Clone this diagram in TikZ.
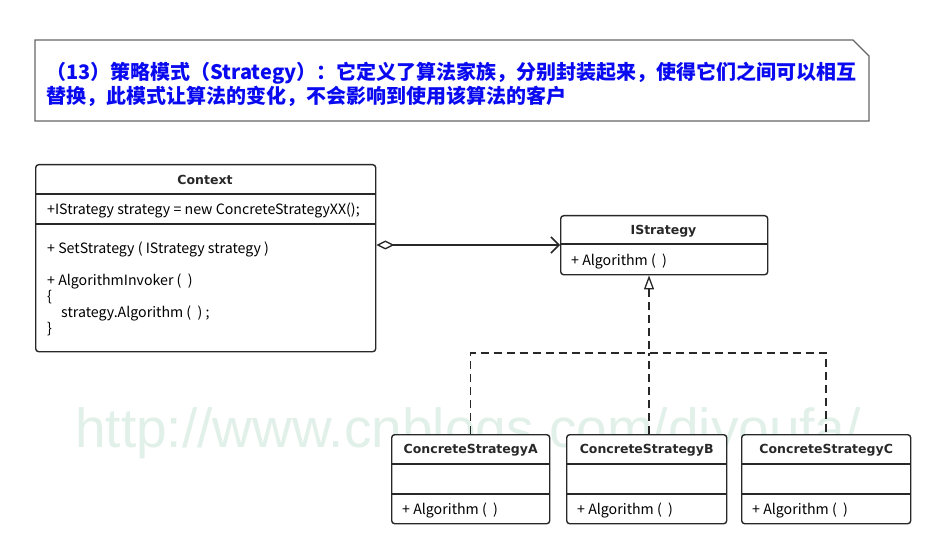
\documentclass[tikz,border=0pt]{standalone}
\usepackage{fontspec}
\usetikzlibrary{arrows.meta}
\newfontfamily\cjk{Noto Sans CJK SC}
\newfontfamily\bodyf{Noto Sans CJK SC}
\newfontfamily\headf{DejaVu Sans}
\newfontfamily\wmf{Liberation Sans}
\definecolor{ttl}{RGB}{10,10,240}
\definecolor{wm}{RGB}{226,240,234}
\definecolor{ln}{RGB}{40,40,40}
\begin{document}
\begin{tikzpicture}[x=1pt,y=-1pt,
  cls/.style={draw=ln, line width=1.4pt, rounded corners=3pt, fill=white, inner sep=0pt, anchor=north west},
  hdr/.style={font=\headf\bfseries\fontsize{12.5}{14}\selectfont, text=ln, inner sep=0pt},
  txt/.style={font=\bodyf\fontsize{14.2}{16}\selectfont, text=black, inner sep=0pt, anchor=west, yshift=-1.5pt},
  div/.style={draw=ln, line width=1.4pt},
  real/.style={draw=ln, line width=1.5pt, dash pattern=on 8pt off 5pt},
  ttlt/.style={font=\cjk\bfseries\fontsize{20}{22}\selectfont, text=ttl, inner sep=0pt, anchor=west}
]
\useasboundingbox (0,0) rectangle (936,553);
\fill[white] (0,0) rectangle (936,553);

% watermark
\node[font=\wmf\fontsize{55}{60}\selectfont, text=wm, anchor=base west, inner sep=0pt] (wmk) at (75,447) {http://www.cnblogs.com/diyoufa/};

% note
\draw[draw=black!60, line width=1.2pt, fill=white] (35,40) -- (853,40) -- (869,56) -- (869,121) -- (35,121) -- cycle;
\node[ttlt] (t1) at (46,73) {（13）策略模式（Strategy）：它定义了算法家族，分别封装起来，使得它们之间可以相互};
\node[ttlt] (t2) at (46,96) {替换，此模式让算法的变化，不会影响到使用该算法的客户};

% Context
\node[cls, minimum width=340pt, minimum height=187pt] (ctx) at (35,164) {};
\draw[div] ([yshift=-30pt]ctx.north west) -- ([yshift=-30pt]ctx.north east);
\draw[div] ([yshift=-60pt]ctx.north west) -- ([yshift=-60pt]ctx.north east);
\node[hdr] (ctxn) at (205,180) {Context};
\node[txt] (ca1) at (47,209) {+IStrategy strategy = new ConcreteStrategyXX();};
\node[txt] (cm1) at (47,248) {+ SetStrategy ( IStrategy strategy )};
\node[txt] (cm2) at (47,280) {+ AlgorithmInvoker (\ \ )};
\node[txt] (cm3) at (47,296) {\{};
\node[txt] (cm4) at (61,312) {strategy.Algorithm (\ \ ) ;};
\node[txt] (cm5) at (47,328) {\}};

% IStrategy
\node[cls, minimum width=207pt, minimum height=59pt] (is) at (560,215) {};
\draw[div] ([yshift=-29pt]is.north west) -- ([yshift=-29pt]is.north east);
\node[hdr] (isn) at (663.5,231) {IStrategy};
\node[txt] (ism) at (571,260) {+ Algorithm (\ \ )};

% Concrete strategies
\foreach \n/\x/\w/\lbl in {ca/391/158/ConcreteStrategyA, cb/566/160/ConcreteStrategyB, cc/741/169/ConcreteStrategyC}{
  \node[cls, minimum width=\w pt, minimum height=89pt] (\n) at (\x,434) {};
  \draw[div] ([yshift=-30pt]\n.north west) -- ([yshift=-30pt]\n.north east);
  \draw[div] ([yshift=-60pt]\n.north west) -- ([yshift=-60pt]\n.north east);
  \node[hdr] (\n t) at ([yshift=-16.5pt]\n.north) {\lbl};
  \node[txt] (\n m) at (\x+11,509) {+ Algorithm (\ \ )};
}

% aggregation
\draw[draw=ln, line width=1.5pt, {Diamond[open,length=18pt,width=9pt,line width=1.3pt]}-{Straight Barb[length=8pt,width=16pt,line width=1.5pt]}]
  (ctx.east |- 0,245) -- (is.west |- 0,245);

% realization
\coordinate (j) at (649,353);
\draw[real] (ca.north) -- (ca.north |- j) -- (cc.north |- j) -- (cc.north);
\draw[real] (cb.north -| j) -- (j);
\draw[real, {Triangle[open,length=14pt,width=10pt,line width=1.3pt]}-] (is.south -| j) -- (j);
\end{tikzpicture}
\end{document}
